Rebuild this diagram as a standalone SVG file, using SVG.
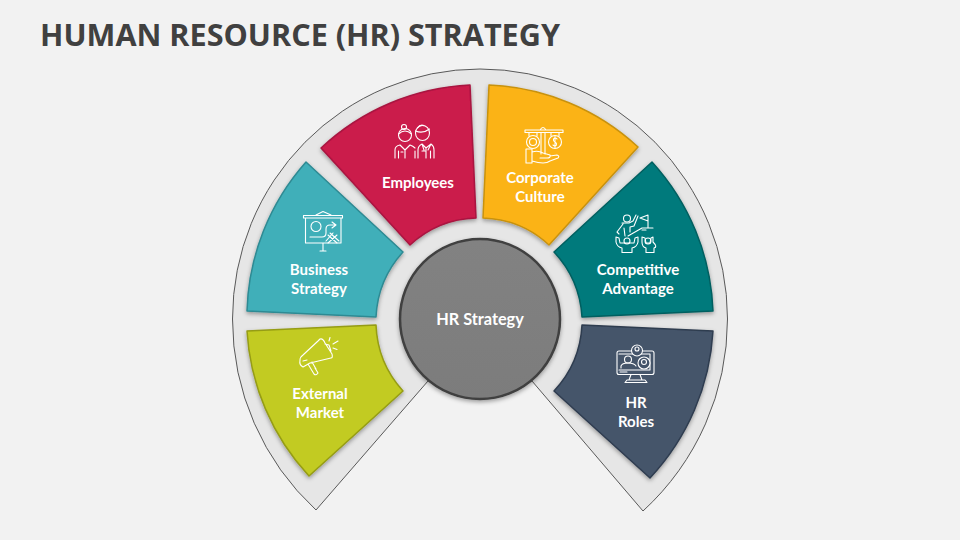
<svg xmlns="http://www.w3.org/2000/svg" width="960" height="540" viewBox="0 0 960 540">
<style>
.seg{stroke-width:1.5;stroke-linejoin:round;filter:url(#sh)}
.lbl{font-family:"Lato","Open Sans",sans-serif;font-size:15px;font-weight:700;fill:#fff;text-anchor:middle}
.ic{fill:none;stroke:#fff;stroke-width:1.1;stroke-linecap:round;stroke-linejoin:round}
</style>
<defs>
<filter id="sh" x="-20%" y="-20%" width="140%" height="140%"><feDropShadow dx="0" dy="2" stdDeviation="2" flood-color="#000" flood-opacity=".35"/></filter>
<linearGradient id="g" x1="0" y1="0" x2="0" y2="1"><stop offset="0" stop-color="#828282"/><stop offset="1" stop-color="#7c7c7c"/></linearGradient>
</defs>
<rect width="960" height="540" fill="#f2f2f2"/>
<text x="40" y="45.500" font-family="'Open Sans','Liberation Sans',sans-serif" font-size="30.600" font-weight="700" fill="#404040">HUMAN RESOURCE (HR) STRATEGY</text>
<g id="connectors">
<path id="backplate" d="M316 510A260 260 0 0 1 232.500 319A247.500 250 0 0 1 480 69A247.500 250 0 0 1 727.500 319A260 260 0 0 1 643 511L532 381L428 381Z" fill="#e6e6e6" stroke="#595959" stroke-width="1"/>
</g>
<g id="employees">
<path class="seg" fill="#cb1a4b" stroke="#a81540" d="M470 85A234 234 0 0 0 321 148L410 245A102 102 0 0 1 476 218Z"/>
<g class="ic"><circle cx="404" cy="127" r="2.500"/><ellipse cx="405" cy="135" rx="6.500" ry="6.500"/><path d="M398.500 134Q405 128 411.500 134M395 158V150Q395 146 400 145L405 150L410 145Q413 146 415 148M398.500 158V151M401 152H403M405 150V158M415 158V151"/><ellipse cx="422.500" cy="133" rx="7" ry="7.500"/><path d="M415.500 131Q423 134 429.500 129M417.500 128Q420 124 424 125.500M418 158V150Q418 146 422 144L426 148L431 144Q434 146 434 150V158M426 148V158M422 144L424 150M431 144L428 150M430.500 158V151M422 151H425"/></g>
<text class="lbl" x="418" y="188">Employees</text>
</g>
<g id="business-strategy">
<path class="seg" fill="#3fafb9" stroke="#2e8a93" d="M306 162A234 234 0 0 0 247 311L376 317A104 104 0 0 1 403 252Z"/>
<g class="ic"><path d="M303.500 215.500H342.500V218H303.500ZM316 215L323 211.500L331 215M305.500 218V243H341V218M323 243V251M320 251H326"/><circle cx="316" cy="226.500" r="5"/><path d="M310 237H322Q326 237 326 233V229Q326 225 330 225H335M332 222L336 225L332 228M328 235L337 243M337 235L328 243M330 233L339 241M333 233L326 241"/></g>
<text class="lbl" x="319" y="275">Business</text><text class="lbl" x="319" y="294">Strategy</text>
</g>
<g id="corporate-culture">
<path class="seg" fill="#fbb316" stroke="#c8920f" d="M489 85A234 234 0 0 1 638 147L549 245A102 102 0 0 0 483 218Z"/>
<g class="ic"><path d="M525 130H563V132.500H525ZM540 130Q543 125 546 130M541 132.500V154M545 132.500V154M529 133V136M537 133V136M551 133V136M559 133V136"/><circle cx="533" cy="142" r="6.500"/><circle cx="533" cy="142" r="3.500"/><circle cx="555" cy="142" r="6.500"/><path d="M557 139Q555 137 553.500 139Q553 141 555 142Q557 143 556.500 145Q555 147 553 145M555 136.500V147.500M526 149H532V163H526ZM532 152Q538 150 543 153L550 155Q551 158 547 158H540M532 161Q545 165 550 161L558 158Q560 156 557 155L550 156"/></g>
<text class="lbl" x="540" y="183">Corporate</text><text class="lbl" x="540" y="202">Culture</text>
</g>
<g id="competitive-advantage">
<path class="seg" fill="#007a7b" stroke="#005f60" d="M652 162A234 234 0 0 1 713 311L582 317A104 104 0 0 0 554 252Z"/>
<g class="ic"><circle cx="627" cy="218.500" r="3.500"/><path d="M622 223L629 223L633 221L636 215M638 216L634 226L630 227V232M623 224L617 232L619 234M624 228L625 236M628 236L642 228H653M648 228V215L640 218L648 221M642 230H646M616 237V242Q617 247 622 248V252.500H632V248Q637 247 638 242V237L635 238L634 243H620L619 238ZM642 237V242Q642 247 646 248V252.500H654V248Q658 247 653 242V237L651 238L650 243H646L645 238Z"/><circle cx="627" cy="241" r="3"/><circle cx="648" cy="241" r="3"/></g>
<text class="lbl" x="638" y="275">Competitive</text><text class="lbl" x="638" y="294">Advantage</text>
</g>
<g id="external-market">
<path class="seg" fill="#c2cb20" stroke="#959c14" d="M247 331A234 234 0 0 0 309 476L403 391A104 104 0 0 1 376 325Z"/>
<g class="ic" stroke-width="1.300"><path d="M320 339Q323 338 325 343L332 354Q333 358 331 358L310 363L303 367Q299 365 300 360Q300 357 303 355L318 341ZM325 344L329 345L331 351M308 364L314 374Q316 376 318 373L315 368M312 362L316 369M303 361L307 360M330 337.500L329 341M333 344L338 341M333 348L337 349.500"/></g>
<text class="lbl" x="320" y="399">External</text><text class="lbl" x="320" y="418">Market</text>
</g>
<g id="hr-roles">
<path class="seg" fill="#44546a" stroke="#2f3c4f" d="M582 325L713 331A234 234 0 0 1 650 478L554 391A104 104 0 0 0 582 325Z"/>
<g class="ic"><rect x="617" y="351" width="37" height="23.500" rx="2"/><path d="M619 354H650V370H619M631 374.500L629 380M640 374.500L642 380M625 382.500H647L645 380H627ZM620 372H627"/><circle cx="637" cy="350.500" r="5.500" fill="#44546a"/><circle cx="637" cy="349" r="2"/><circle cx="644" cy="363" r="6" fill="#44546a"/><circle cx="644" cy="362" r="2.500"/><circle cx="628" cy="359.500" r="3.500"/><path d="M621 368V366Q622 363 628 363Q634 363 636 366"/></g>
<text class="lbl" x="636" y="408">HR</text><text class="lbl" x="636" y="427">Roles</text>
</g>
<g id="hr-strategy">
<circle cx="480" cy="319" r="80" fill="url(#g)" stroke="#404040" stroke-width="2.500" filter="url(#sh)"/>
<text x="480" y="325" font-family="'Lato','Open Sans',sans-serif" font-size="16.300" font-weight="700" fill="#fff" text-anchor="middle">HR Strategy</text>
</g>
</svg>
